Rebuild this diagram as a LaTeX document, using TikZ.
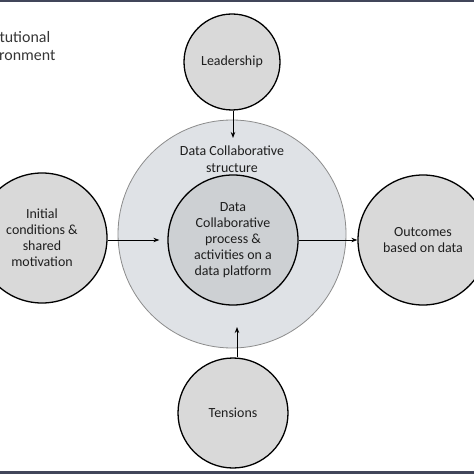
\documentclass[tikz,border=0pt]{standalone}
\usepackage{fontspec}
\setmainfont{Carlito}
\usetikzlibrary{arrows.meta}
\definecolor{ringfill}{HTML}{DFE2E6}
\definecolor{corefill}{HTML}{CDD0D3}
\definecolor{bubblefill}{HTML}{D9D9D9}
\definecolor{ringline}{HTML}{8C8C8C}
\definecolor{frameband}{HTML}{41465A}
\definecolor{inktext}{HTML}{1E1E1E}
\tikzset{
  bubble/.style={circle, draw=black, line width=1.3bp, fill=bubblefill, align=center,
    inner sep=0pt, text=inktext, font=\fontsize{14}{16}\selectfont},
  ring/.style={circle, draw=ringline, line width=0.8bp, fill=ringfill, inner sep=0pt},
  flow/.style={-{Stealth[length=6bp,width=4.5bp]}, line width=0.9bp}
}
\begin{document}
\begin{tikzpicture}[x=1bp,y=-1bp]
    \useasboundingbox (0,0) rectangle (474,474);
    \clip (0,0) rectangle (474,474);
    \fill[white] (0,0) rectangle (474,474);
    \fill[frameband] (0,0) rectangle (474,2.5);
    \fill[frameband] (0,471) rectangle (474,474);
    % environment caption, cut by the left edge
    \node[anchor=base west, align=left, inner sep=0pt, text=darkgray!85!black,
      font=\fontsize{16}{19}\selectfont] (env) at (-28,61) {Institutional\\environment};
    % structure ring and core
    \node[ring, minimum size=228bp] (struct) at (232,234) {};
    \node[align=center, inner sep=0pt, text=inktext, font=\fontsize{14}{17}\selectfont]
      (structlbl) at (232,159) {Data Collaborative\\structure};
    \node[bubble, fill=corefill, minimum size=130bp] (core) at (233,240)
      {Data\\Collaborative\\process \&\\activities on a\\data platform};
    % outer bubbles
    \node[bubble, minimum size=96bp] (lead) at (232,62) {Leadership};
    \node[bubble, minimum size=110bp] (tens) at (233,413) {Tensions};
    \node[bubble, minimum size=130bp] (init) at (42,238)
      {Initial\\conditions \&\\shared\\motivation};
    \node[bubble, minimum size=130bp] (outc) at (423,240) {Outcomes\\based on data};
    % arrows
    \coordinate (leadtip) at (233,138);
    \coordinate (tenstip) at (237,327);
    \draw[flow] (lead.south -| leadtip) -- (leadtip);
    \draw[flow] (tens.north -| tenstip) -- (tenstip);
    \draw[flow, shorten >=8bp] (init.east |- core.west) -- (core.west);
    \draw[flow] (core.east) -- (outc.west);
\end{tikzpicture}
\end{document}
